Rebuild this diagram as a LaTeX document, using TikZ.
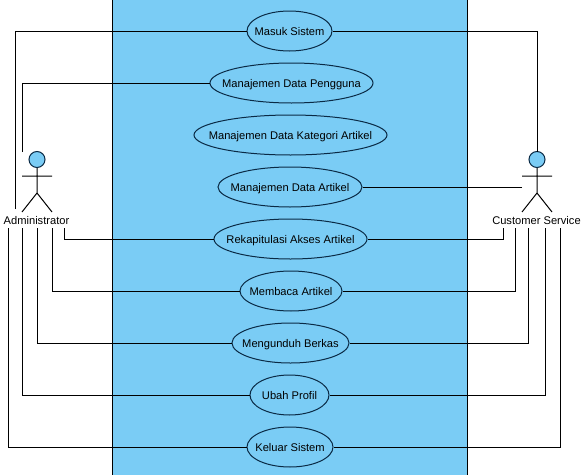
\documentclass[tikz,border=0pt]{standalone}
\usepackage{fontspec}
\usetikzlibrary{shapes.geometric}
\setmainfont{Liberation Sans}
\definecolor{panelblue}{HTML}{7ACCF5}
\definecolor{edgeblue}{HTML}{0A2A45}
\begin{document}
\begin{tikzpicture}[x=0.75pt,y=-0.75pt,
  uc/.style={draw=edgeblue,line width=0.75pt,fill=panelblue,ellipse,inner sep=0pt,minimum height=30pt,text height=6.2pt,text depth=0.2pt,font=\fontsize{8.35}{10}\selectfont,text=black},
  lnk/.style={draw=black,line width=0.75pt},
  stick/.style={draw=black,line width=0.75pt},
  lab/.style={font=\fontsize{8.35}{10}\selectfont,inner sep=0pt}]
\useasboundingbox (0,0) rectangle (586,475);
\fill[white] (0,0) rectangle (586,475);
\fill[panelblue] (112.5,0) rectangle (467,475);
\draw[line width=0.75pt,black] (112.5,0) -- (112.5,475) (467,0) -- (467,475);
\foreach \n/\cx/\cy/\w/\t in {
 masuk/289.5/31/85/Masuk Sistem,
 pengguna/291.5/83/163/Manajemen Data Pengguna,
 kategori/290.5/135/193/Manajemen Data Kategori Artikel,
 artikel/290/187/144/Manajemen Data Artikel,
 rekap/290.5/239/153/Rekapitulasi Akses Artikel,
 baca/291/291/102/Membaca Artikel,
 unduh/290.5/343/117/Mengunduh Berkas,
 ubah/289.5/395/79/Ubah Profil,
 keluar/290/447/86/Keluar Sistem}{
  \node[uc,minimum width=0.75*\w pt] (\n) at (\cx,\cy) {\makebox[0pt][c]{\t}};
}
% actors
\node[draw=edgeblue,line width=0.75pt,fill=panelblue,circle,inner sep=0pt,minimum size=12pt] (headA) at (37,159.5) {};
\coordinate (hipA) at (37,193);
\coordinate (armLA) at (22,176); \coordinate (armRA) at (52,176);
\coordinate (footLA) at (22,212); \coordinate (footRA) at (52,212);
\draw[stick] (headA) -- (hipA) -- (footLA) (hipA) -- (footRA) (armLA) -- (armRA);
\node[lab] (admin) at (36.5,220.5) {Administrator};
\node[draw=edgeblue,line width=0.75pt,fill=panelblue,circle,inner sep=0pt,minimum size=12pt] (headB) at (537,159.5) {};
\coordinate (hipB) at (537,193);
\coordinate (armLB) at (522,176); \coordinate (armRB) at (552,176);
\coordinate (footLB) at (522,212); \coordinate (footRB) at (552,212);
\draw[stick] (headB) -- (hipB) -- (footLB) (hipB) -- (footRB) (armLB) -- (armRB);
\node[lab] (cs) at (536.5,220.5) {Customer Service};
% connectors: left side
\coordinate (a1) at (15.5,209); \coordinate (a2) at (22.5,152);
\coordinate (a3) at (64.5,228); \coordinate (a4) at (52,228);
\coordinate (a5) at (37.5,228); \coordinate (a6) at (22.5,228);
\coordinate (a7) at (8.5,228);
\draw[lnk] (a1) |- (masuk);
\draw[lnk] (a2) |- (pengguna);
\draw[lnk] (a3) |- (rekap);
\draw[lnk] (a4) |- (baca);
\draw[lnk] (a5) |- (unduh);
\draw[lnk] (a6) |- (ubah);
\draw[lnk] (a7) |- (keluar);
% connectors: right side
\coordinate (b1) at (537,152); \coordinate (b2) at (522,187);
\coordinate (b3) at (503.5,228); \coordinate (b4) at (515.5,228);
\coordinate (b5) at (528,228); \coordinate (b6) at (545,228);
\coordinate (b7) at (560.5,228);
\draw[lnk] (b1) |- (masuk);
\draw[lnk] (b2) -- (artikel);
\draw[lnk] (b3) |- (rekap);
\draw[lnk] (b4) |- (baca);
\draw[lnk] (b5) |- (unduh);
\draw[lnk] (b6) |- (ubah);
\draw[lnk] (b7) |- (keluar);
\end{tikzpicture}
\end{document}
